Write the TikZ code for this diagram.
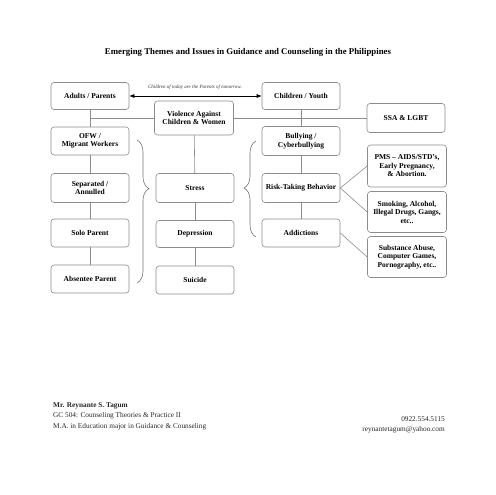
\documentclass[tikz,border=0pt]{standalone}
\usepackage{fontspec}
\setmainfont{Liberation Serif}
\usetikzlibrary{arrows.meta,decorations.pathreplacing}

\begin{document}
\begin{tikzpicture}[x=1pt, y=-1pt,
        box/.style={draw=black!45, rounded corners=3pt, fill=white, line width=0.6pt, align=center,
            font=\fontsize{7.5}{8.5}\selectfont\bfseries, inner sep=1pt, minimum width=78pt},
        link/.style={draw=black!45, line width=0.6pt},
        curly/.style={draw=black!55, line width=0.6pt, decorate}]
        \useasboundingbox (0,0) rectangle (495,495);

        % title
        \node[font=\fontsize{8.8}{10}\selectfont\bfseries] (title) at (248,52) {Emerging Themes and Issues in Guidance and Counseling in the Philippines};

        % left column
        \node[box, minimum height=27pt] (adults) at (90,96) {Adults / Parents};
        \node[box, minimum height=28pt] (ofw) at (90,141) {OFW /\\ Migrant Workers};
        \node[box, minimum height=29pt] (separated) at (90,188) {Separated /\\ Annulled};
        \node[box, minimum height=28pt] (solo) at (90,233) {Solo Parent};
        \node[box, minimum height=28pt] (absentee) at (90,279) {Absentee Parent};

        % middle column
        \node[box, minimum width=79pt, minimum height=34pt] (violence) at (194,118) {Violence Against\\ Children \& Women};
        \node[box, minimum height=29pt] (stress) at (195,188) {Stress};
        \node[box, minimum height=27pt] (depression) at (195,234) {Depression};
        \node[box, minimum height=28pt] (suicide) at (195,280) {Suicide};

        % right column
        \node[box, minimum height=27pt] (children) at (301,96) {Children / Youth};
        \node[box, minimum height=29pt] (bullying) at (301,141) {Bullying /\\ Cyberbullying};
        \node[box, minimum height=29pt] (risk) at (301,188) {Risk-Taking Behavior};
        \node[box, minimum height=28pt] (addictions) at (301,233) {Addictions};

        % far right
        \node[box, minimum height=29pt] (ssa) at (406,118) {SSA \& LGBT};
        \node[box, minimum width=79pt, minimum height=42pt] (pms) at (407,166) {PMS -- AIDS/STD's,\\ Early Pregnancy,\\ \& Abortion.};
        \node[box, minimum width=79pt, minimum height=41pt] (smoking) at (407,212) {Smoking, Alcohol,\\ Illegal Drugs, Gangs,\\ etc..};
        \node[box, minimum width=79pt, minimum height=41pt] (substance) at (407,257) {Substance Abuse,\\ Computer Games,\\ Pornography, etc..};

        % links
        \draw[link, draw=black, {Latex[length=5pt,width=4pt]}-{Latex[length=5pt,width=4pt]}] (adults) -- (children)
            node[midway, above=3pt, font=\fontsize{5}{6}\selectfont\itshape, text=black!80] {Children of today are the Parents of tomorrow..};
        \draw[link] (adults) -- (ofw);
        \draw[link] (ofw) -- (separated);
        \draw[link] (separated) -- (solo);
        \draw[link] (solo) -- (absentee);
        \draw[link] (adults.south |- violence.west) -- (violence.west);
        \draw[link] (violence.east) -- (ssa.west);
        \draw[link] (violence) -- (stress);
        \draw[link] (stress) -- (depression);
        \draw[link] (depression) -- (suicide);
        \draw[link] (children) -- (bullying);
        \draw[link] (bullying) -- (risk);
        \draw[link] (risk) -- (addictions);
        \draw[link] (risk.east) -- (pms.west);
        \draw[link] (risk.east) -- (smoking.west);
        \draw[link] (addictions.east) -- (substance.west);

        % braces
        \draw[curly, decoration={brace, amplitude=12pt, aspect=0.34}] (137,140) -- (137,283);
        \draw[curly, decoration={brace, amplitude=12pt, aspect=0.51}] (256,237) -- (256,141);

        % footer
        \node[anchor=north west, align=left, inner sep=0pt, text=black!85, font=\fontsize{7.3}{10.8}\selectfont] (author) at (53,402)
            {\textbf{Mr. Reynante S. Tagum}\\ GC 504: Counseling Theories \& Practice II\\ M.A. in Education major in Guidance \& Counseling};
        \node[anchor=north east, align=right, inner sep=0pt, text=black!85, font=\fontsize{7.3}{10.8}\selectfont] (contact) at (445,416)
            {0922.554.5115\\ reynantetagum@yahoo.com};
    \end{tikzpicture}
\end{document}
